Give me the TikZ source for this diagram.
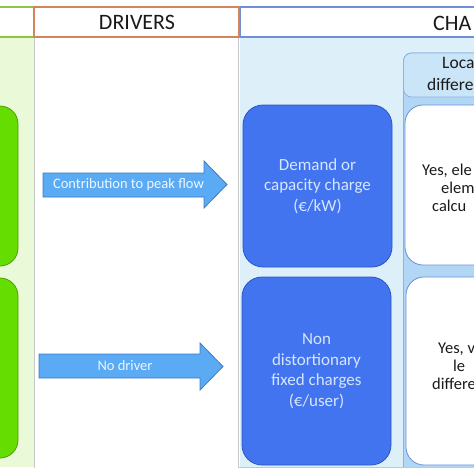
\documentclass[tikz,border=0pt]{standalone}
\usepackage{fontspec}
\setmainfont{Carlito}
\definecolor{grnbd}{HTML}{8DC63F}
\definecolor{grnbg}{HTML}{EAFAD8}
\definecolor{grnfill}{HTML}{66DD00}
\definecolor{grnline}{HTML}{4A9E0A}
\definecolor{greyln}{HTML}{C8C8C8}
\definecolor{drvbd}{HTML}{D4845A}
\definecolor{chabd}{HTML}{6F8FD8}
\definecolor{chabg}{HTML}{DDF0FA}
\definecolor{bluefill}{HTML}{4274F0}
\definecolor{bluebd}{HTML}{2A55C5}
\definecolor{bluetxt}{HTML}{D6E6FF}
\definecolor{arrfill}{HTML}{5AAAF4}
\definecolor{arrbd}{HTML}{3C7CC8}
\definecolor{arrtxt}{HTML}{EEF6FF}
\definecolor{panfill}{HTML}{B2D7F4}
\definecolor{panhd}{HTML}{CAE4F8}
\definecolor{panbd}{HTML}{8AB4E2}
\definecolor{whitebd}{HTML}{6A8FD8}
\definecolor{txt}{HTML}{1A1A1A}
\tikzset{
  hdrbox/.style={draw, line width=1.2pt, fill=white, minimum height=30pt, inner sep=0pt},
  greenbox/.style={draw=grnline, fill=grnfill, line width=0.8pt, rounded corners=18pt, inner sep=0pt},
  bluebox/.style={draw=bluebd, fill=bluefill, line width=0.8pt, rounded corners=20pt, inner sep=0pt,
     text=bluetxt, align=center, font=\fontsize{17}{20.5}\selectfont},
  whitebox/.style={draw=whitebd, fill=white, line width=0.8pt, rounded corners=18pt, inner sep=0pt},
  arrowshape/.style={draw=arrbd, fill=arrfill, line width=0.8pt, line join=miter},
  arrowtext/.style={text=arrtxt, font=\fontsize{14.5}{17}\selectfont, inner sep=0pt},
  rtext/.style={text=txt, font=\fontsize{16.5}{18}\selectfont, anchor=west, align=left, inner sep=0pt},
  hdrtext/.style={text=txt, font=\fontsize{22}{26}\selectfont, inner sep=0pt}
}
\begin{document}
\begin{tikzpicture}[x=1pt,y=-1pt]
\useasboundingbox (0,0) rectangle (474,474);
\clip (0,0) rectangle (474,474);
% column backgrounds
\fill[grnbg] (0,38) rectangle (34,467);
\fill[chabg] (240,38) rectangle (480,467);
\draw[greyln, line width=1pt] (34.5,38) -- (34.5,468);
\draw[greyln, line width=1pt] (238.5,38) -- (238.5,468);
\draw[greyln, line width=0.8pt] (238.5,467.5) -- (480,467.5);
% headers
\node[hdrbox, draw=grnbd, minimum width=42pt] (hleft) at (13,22) {};
\node[hdrbox, draw=drvbd, minimum width=205pt] (hdrv) at (136.5,22) {};
\node[hdrtext] (tdrv) at (137,22) {DRIVERS};
\node[hdrbox, draw=chabd, minimum width=250pt] (hcha) at (365.5,22) {};
\node[hdrtext, anchor=base west] (tcha) at (433,30) {CHA};
% green boxes
\node[greenbox, minimum width=38pt, minimum height=160pt] (g1) at (-1,186) {};
\node[greenbox, minimum width=38pt, minimum height=180pt] (g2) at (-1,368) {};
% arrows
\draw[arrowshape] (43,173) -- (204,173) -- (204,161) -- (227,184.5) -- (204,208) -- (204,197) -- (43,197) -- cycle;
\node[arrowtext] (a1) at (128.5,185) {Contribution to peak flow};
\draw[arrowshape] (39,354) -- (200,354) -- (200,343) -- (223,366.5) -- (200,390) -- (200,378) -- (39,378) -- cycle;
\node[arrowtext] (a2) at (125,366) {No driver};
% blue boxes
\node[bluebox, minimum width=149pt, minimum height=162pt] (b1) at (317.5,186) {Demand or\\capacity charge\\(€/kW)};
\node[bluebox, minimum width=149pt, minimum height=188pt] (b2) at (316.5,371) {Non\\distortionary\\fixed charges\\(€/user)};
% right panel
\draw[panbd, fill=panfill, line width=0.8pt, rounded corners=8pt] (403.5,467) -- (403.5,53) -- (490,53) -- (490,467);
\node[draw=panbd, fill=panhd, line width=0.8pt, rounded corners=8pt, minimum width=90pt, minimum height=44pt, inner sep=0pt] (phd) at (448.5,75) {};
\node[text=txt, font=\fontsize{17.5}{22}\selectfont, anchor=west, align=left, inner sep=0pt] (ph) at (427,74) {\hspace*{15pt}Loca\\differe};
\node[whitebox, minimum width=140pt, minimum height=160pt] (w1) at (475,185) {};
\node[whitebox, minimum width=140pt, minimum height=188pt] (w2) at (476,371) {};
\node[rtext] (w1t) at (422,187.5) {Yes, ele\\\hspace*{19pt}elem\\\hspace*{10pt}calcu};
\node[rtext] (w2t) at (432,366) {\hspace*{6pt}Yes, v\\\hspace*{21pt}le\\differe};
\end{tikzpicture}
\end{document}
